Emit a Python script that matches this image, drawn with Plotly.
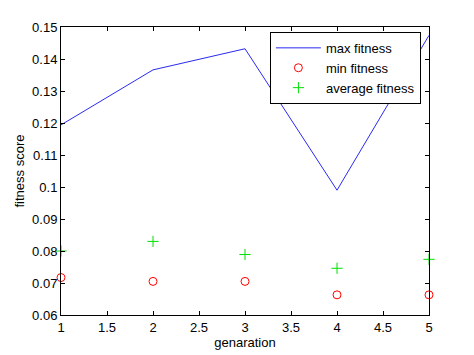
import plotly.graph_objects as go

generation = [1, 2, 3, 4, 5]
max_fitness = [0.1194, 0.1366, 0.1432, 0.0990, 0.1474]
min_fitness = [0.0717, 0.0705, 0.0705, 0.0663, 0.0663]
avg_fitness = [0.0800, 0.0830, 0.0789, 0.0746, 0.0774]
x_ticks = [1, 1.5, 2, 2.5, 3, 3.5, 4, 4.5, 5]
y_ticks = [0.06, 0.07, 0.08, 0.09, 0.1, 0.11, 0.12, 0.13, 0.14, 0.15]

fig = go.Figure()
fig.add_trace(go.Scatter(x=generation, y=max_fitness, mode="lines", name="max fitness",
                         line=dict(color="#2a2af0", width=1), cliponaxis=False))
fig.add_trace(go.Scatter(x=generation, y=min_fitness, mode="markers", name="min fitness",
                         cliponaxis=False,
                         marker=dict(symbol="circle-open", color="#ff0000", size=8, line=dict(width=1))))
fig.add_trace(go.Scatter(x=generation, y=avg_fitness, mode="markers", name="average fitness",
                         cliponaxis=False,
                         marker=dict(symbol="cross-thin-open", color="#00e000", size=8, line=dict(width=1, color="#00e000"))))

axis_common = dict(showgrid=False, zeroline=False, showline=True, linecolor="black", linewidth=1,
                   mirror="ticks", ticks="inside", ticklen=4, tickcolor="black", automargin=False,
                   tickfont=dict(family="Liberation Sans, Arial", size=13, color="black"))

fig.update_layout(
    width=474, height=355,
    margin=dict(l=61, r=45, t=27, b=40),
    paper_bgcolor="white", plot_bgcolor="white",
    font=dict(family="Liberation Sans, Arial", size=13, color="black"),
    xaxis=dict(range=[1, 5], tickvals=x_ticks, ticktext=[str(v) for v in x_ticks],
               title=dict(text="genaration", standoff=3, font=dict(size=13)), **axis_common),
    yaxis=dict(range=[0.06, 0.15], tickvals=y_ticks, ticktext=[f"{v:g}" for v in y_ticks],
               title=dict(text="fitness score", standoff=4, font=dict(size=13)), **axis_common),
    legend=dict(x=0.978, y=0.983, xanchor="right", yanchor="top", bgcolor="white",
                bordercolor="black", borderwidth=1, font=dict(size=13),
                tracegroupgap=0, itemwidth=45),
    showlegend=True,
)

fig.write_html("out.html", config={"displayModeBar": False},
               post_script="document.body.style.margin='0';")
